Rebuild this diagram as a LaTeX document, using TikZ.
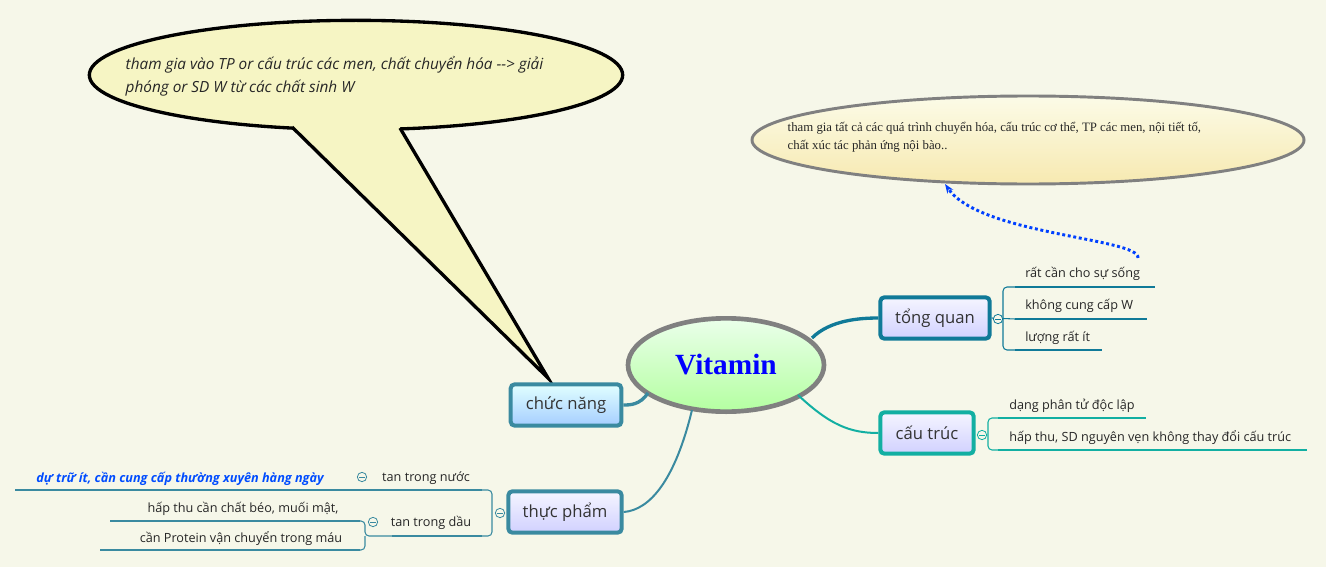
\documentclass[tikz,border=0pt]{standalone}
\usepackage{fontspec}
\setmainfont{Open Sans}
\newfontfamily\serifv{Liberation Serif}
\usetikzlibrary{arrows.meta,shapes.geometric}
\definecolor{bg}{HTML}{F6F7E9}
\definecolor{tq}{HTML}{107A98}
\definecolor{ct}{HTML}{12AFA2}
\definecolor{cn}{HTML}{3A8AA0}
\definecolor{bub}{HTML}{F6F5C4}
\tikzset{
 topic/.style={draw=#1,line width=3pt,rounded corners=3pt,font=\fontsize{12.5}{14}\selectfont,text=black!80,minimum height=31pt,inner xsep=6pt},
 leaf/.style={font=\fontsize{9.5}{11}\selectfont,text=black!85,anchor=base west,inner sep=0pt},
 uline/.style={line width=1.8pt,draw=#1},
 bracket/.style={draw=#1,line width=0.8pt,rounded corners=3pt},
 knob/.style={circle,draw=#1,fill=bg,inner sep=0pt,minimum size=7pt,line width=0.6pt,
   path picture={\draw[#1,line width=0.5pt] ([xshift=-2pt]path picture bounding box.center) -- ([xshift=2pt]path picture bounding box.center);}},
}
\begin{document}
\begin{tikzpicture}[x=0.75pt,y=-0.75pt]
\fill[bg] (0,0) rectangle (1326,567);
\useasboundingbox (0,0) rectangle (1326,567);
% callout 1
\node[ellipse,draw=black,line width=2.5pt,fill=bub,minimum width=400pt,minimum height=82pt] (c1) at (356,75) {};
\fill[bub] (292,110) -- (292,127) -- (548,378) -- (400,128) -- (400,110) -- cycle;
\draw[line width=2.5pt] (292,127) -- (548,378) -- (400,128);
\node[align=left,anchor=north west,font=\itshape\fontsize{11.5}{17}\selectfont,text=black!85] (c1t) at (121,52) {tham gia vào TP or cấu trúc các men, chất chuyển hóa -{}-> giải\\phóng or SD W từ các chất sinh W};
% callout 2
\node[ellipse,draw=gray,line width=2.2pt,top color=white!60!bub,bottom color=bub!90!orange,minimum width=414pt,minimum height=66pt] (c2) at (1028,140) {};
\node[align=left,anchor=north west,font=\serifv\fontsize{9.6}{13}\selectfont,text=black!85] (c2t) at (783,118) {tham gia tất cả các quá trình chuyển hóa, cấu trúc cơ thể, TP các men, nội tiết tố,\\chất xúc tác phản ứng nội bào..};
\coordinate (ds) at (1138,258);
\draw[blue!75!cyan,line width=2.2pt,dotted,-{Stealth[length=7pt]}] (ds) .. controls (1140,238) and (980,235) .. (945,184);
% central
\node[ellipse,draw=gray,line width=3.5pt,top color=green!8!white,bottom color=green!30!white!90!lime,minimum width=147pt,minimum height=70pt,font=\serifv\bfseries\fontsize{22}{24}\selectfont,text=blue] (v) at (726,365) {Vitamin};
% topics
\node[topic=tq,top color=white!80!blue!20,bottom color=blue!18!white,minimum width=82pt] (tq) at (935,318) {tổng quan};
\node[topic=ct,top color=white!80!blue!20,bottom color=blue!18!white,minimum width=70pt] (ct) at (927,433) {cấu trúc};
\node[topic=cn,top color=cyan!12!white,bottom color=cyan!45!blue!35!white,minimum width=83pt] (cn) at (566,405) {chức năng};
\node[topic=cn,top color=white!80!blue!20,bottom color=blue!18!white,minimum width=85pt] (tp) at (565,512) {thực phẩm};
% connectors
\draw[tq,line width=2.5pt] (812,338) .. controls (830,320) and (860,318) .. (tq.west);
\draw[ct,line width=1.5pt] (798,395) .. controls (830,425) and (850,433) .. (ct.west);
\draw[cn,line width=2.5pt] (648,393) .. controls (640,405) and (630,405) .. (cn.east);
\draw[cn,line width=1.5pt] (692,410) .. controls (675,480) and (650,510) .. (tp.east);
% tong quan leaves
\draw[bracket=tq] (1015,287) -- (1003,287) -- (1003,350) -- (1015,350);
\draw[tq,line width=0.8pt] (tq.east) -- (1015,319);
\node[knob=tq] (k1) at (998,319) {};
\draw[uline=tq] (1015,287) -- (1155,287);
\draw[uline=tq] (1015,319) -- (1147,319);
\draw[uline=tq] (1015,350) -- (1102,350);
\node[leaf] (l1) at (1025,277) {rất cần cho sự sống};
\node[leaf] (l2) at (1025,309) {không cung cấp W};
\node[leaf] (l3) at (1025,341) {lượng rất ít};
% cau truc leaves
\draw[bracket=ct] (998,418) -- (988,418) -- (988,450) -- (998,450);
\node[knob=ct] (k2) at (982,435) {};
\draw[uline=ct] (998,418) -- (1146,418);
\draw[uline=ct] (998,450) -- (1307,450);
\node[leaf] (l4) at (1009,409) {dạng phân tử độc lập};
\node[leaf] (l5) at (1009,441) {hấp thu, SD nguyên vẹn không thay đổi cấu trúc};
% thuc pham leaves
\draw[bracket=cn] (482,490) -- (492,490) -- (492,536) -- (482,536);
\node[knob=cn] (k3) at (500,513) {};
\draw[uline=cn] (482,490) -- (374,490);
\draw[uline=cn] (482,536) -- (392,536);
\node[leaf,anchor=base] (l6) at (426,481) {tan trong nước};
\node[leaf,anchor=base] (l7) at (431,526) {tan trong dầu};
\node[knob=cn] (k4) at (362,477) {};
\draw[cn,line width=0.8pt] (374,490) -- (340,490);
\draw[uline=cn] (340,490) -- (15,490);
\node[leaf,anchor=base,font=\bfseries\itshape\fontsize{9.5}{11}\selectfont,text=blue!70!cyan] (l8) at (180,482) {dự trữ ít, cần cung cấp thường xuyên hàng ngày};
\node[knob=cn] (k5) at (373,522) {};
\draw[bracket=cn] (392,536) -- (365,536) -- (365,521) -- (360,521);
\draw[bracket=cn] (365,536) -- (365,550) -- (360,550);
\draw[uline=cn] (360,521) -- (110,521);
\draw[uline=cn] (360,550) -- (100,550);
\node[leaf,anchor=base] (l9) at (243,512) {hấp thu cần chất béo, muối mật,};
\node[leaf,anchor=base] (l10) at (241,542) {cần Protein vận chuyển trong máu};
\end{tikzpicture}
\end{document}
